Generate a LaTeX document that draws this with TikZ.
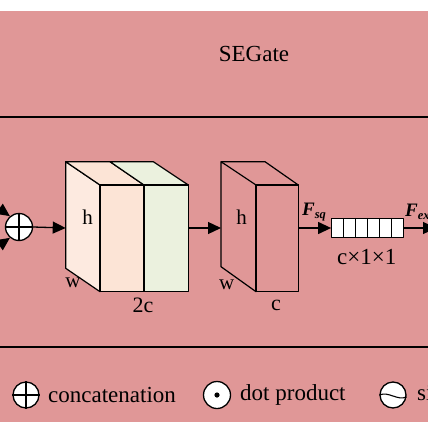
\documentclass[tikz,border=0pt]{standalone}
\usepackage{fontspec}
\setmainfont{Liberation Serif}
\usetikzlibrary{arrows.meta,calc}
\definecolor{bgpink}{RGB}{224,151,151}
\definecolor{peach}{RGB}{252,228,214}
\definecolor{peachl}{RGB}{253,234,224}
\definecolor{palegreen}{RGB}{235,241,222}
\tikzset{
  conn/.style={line width=1.3pt,-{Triangle[length=13pt,width=12pt]}},
  boxline/.style={line width=1.2pt,line join=round},
  opcircle/.style={circle,draw,line width=1.3pt,fill=white,minimum size=27pt,inner sep=0pt},
  lbl/.style={font=\fontsize{22}{24}\selectfont,inner sep=0pt},
  dimlbl/.style={font=\fontsize{21}{23}\selectfont,inner sep=0pt},
  legtxt/.style={font=\fontsize{23}{25}\selectfont,anchor=west,inner sep=0pt},
  sepline/.style={line width=1.6pt}
}
\begin{document}
\begin{tikzpicture}[x=1pt,y=-1pt]
\useasboundingbox (0,0) rectangle (428,428);
\clip (0,0) rectangle (428,428);
\fill[white] (0,0) rectangle (428,428);
\fill[bgpink] (0,11) rectangle (428,422);
\draw[sepline] (-5,116.7) -- (433,116.7);
\draw[sepline] (-5,347) -- (433,347);
\node[lbl,font=\fontsize{23}{25}\selectfont] (title) at (254,54) {SEGate};

% concat circle
\node[opcircle] (cat) at (19,227) {};
\draw[line width=1.1pt] (cat.north) -- (cat.south) (cat.west) -- (cat.east);
\coordinate (inA) at (-20,180);
\coordinate (inB) at (-20,275);
\draw[conn] (inA) to[out=-20,in=145] (cat.130);
\draw[conn] (inB) to[out=20,in=-145] (cat.230);

% box 1
\coordinate (b1in) at (65.7,228);
\coordinate (b1out) at (188.3,228);
\draw[boxline,fill=peachl] (65.7,161.7) -- (100,185) -- (100,291.7) -- (65.7,268.3) -- cycle;
\draw[boxline,fill=peach] (65.7,161.7) -- (110,161.7) -- (144,185) -- (100,185) -- cycle;
\draw[boxline,fill=palegreen] (110,161.7) -- (153.3,161.7) -- (188.3,185) -- (144,185) -- cycle;
\draw[boxline,fill=peach] (100,185) rectangle (144,291.7);
\draw[boxline,fill=palegreen] (144,185) rectangle (188.3,291.7);
\draw[line width=2.2pt] (144,185) -- (144,291.7);
\node[dimlbl] (h1) at (87.7,217) {h};
\node[dimlbl] (w1) at (73,283) {w};
\node[lbl] (c1) at (143,305) {2c};

% box 2
\coordinate (b2in) at (221,228);
\coordinate (b2out) at (298.3,228);
\draw[boxline] (221,161.7) -- (256,185) -- (256,291.7) -- (221,266.7) -- cycle;
\draw[boxline] (221,161.7) -- (265,161.7) -- (298.3,185) -- (256,185);
\draw[boxline] (256,185) rectangle (298.3,291.7);
\node[dimlbl] (h2) at (241.7,217) {h};
\node[dimlbl] (w2) at (226.7,285) {w};
\node[lbl] (c2) at (276,305) {c};

% vector
\node[draw,boxline,fill=white,minimum width=71.6pt,minimum height=19pt,inner sep=0pt] (vec) at (367.5,228) {};
\foreach \i in {1,...,5}{
  \draw[line width=1pt] ($(vec.north west)!\i/6!(vec.north east)$) -- ($(vec.south west)!\i/6!(vec.south east)$);
}
\node[lbl,font=\fontsize{23}{25}\selectfont] (vdim) at (366.7,256.7) {c×1×1};
\coordinate (outE) at (436,228);

% arrows
\draw[conn] (cat.east) -- (b1in);
\draw[conn] (b1out) -- (b2in);
\draw[conn] (b2out) -- (vec.west);
\draw[conn] (vec.east) -- (outE);
\node[inner sep=0pt] (fsq) at (314,212) {\fontsize{19}{21}\selectfont\bfseries\itshape F\raisebox{-0.35ex}{\fontsize{12.5}{14}\selectfont sq}};
\node[inner sep=0pt,anchor=west] (fex) at (405,212) {\fontsize{19}{21}\selectfont\bfseries\itshape F\raisebox{-0.35ex}{\fontsize{12.5}{14}\selectfont ex}};

% legend
\node[opcircle,minimum size=26pt] (lcat) at (26,395) {};
\draw[line width=1.1pt] (lcat.north) -- (lcat.south) (lcat.west) -- (lcat.east);
\node[legtxt] (tcat) at (48,395) {concatenation};
\node[opcircle,minimum size=27pt] (ldot) at (217,395) {};
\fill (ldot.center) circle (2.6pt);
\node[legtxt] (tdot) at (240,395) {dot product};
\node[opcircle,minimum size=26pt] (lsig) at (393,395) {};
\draw[line width=1.1pt] (lsig.west) .. controls ($(lsig.center)+(-4,-4)$) and ($(lsig.center)+(4,6)$) .. ($(lsig.east)+(0,2)$);
\node[legtxt] (tsig) at (417,395) {sigmoid};
\end{tikzpicture}
\end{document}
